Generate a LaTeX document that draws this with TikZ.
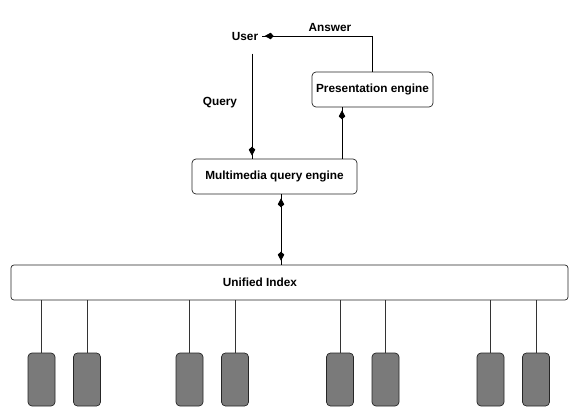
\documentclass[tikz,border=0pt]{standalone}
\usepackage{fontspec}
\setmainfont{Liberation Sans}
\usetikzlibrary{arrows.meta,decorations.markings}

\begin{document}
\begin{tikzpicture}[x=1pt,y=-1pt,
  font=\fontsize{11.8}{13}\selectfont\bfseries,
  >={Kite[length=9pt,width=6.5pt,inset=3pt]},
  enginebox/.style={draw=black!85,rounded corners=4pt,line width=0.7pt,inner sep=0pt},
  diskbox/.style={draw=black!85,fill=black!52,rounded corners=4pt,minimum width=27pt,minimum height=53pt,line width=0.7pt},
  arr/.style={line width=0.8pt,postaction={decorate},
    decoration={markings,mark=at position -3pt with {\arrow{>}}}},
  arrboth/.style={line width=0.8pt,postaction={decorate},
    decoration={markings,mark=at position 4pt with {\arrowreversed{>}},
      mark=at position -4pt with {\arrow{>}}}}]
\useasboundingbox (0,0) rectangle (582,415);

\node (user) at (245,36) {User};
\node (answer) at (330,27) {Answer};
\node[enginebox,minimum width=121pt,minimum height=35pt] (pres) at (372.5,89.5) {Presentation engine};
\node (query) at (220,103) {Query};
\node[enginebox,minimum width=165pt,minimum height=35pt] (mqe) at (274.5,176.5) {Multimedia query engine};
\node[enginebox,rounded corners=3pt,minimum width=557pt,minimum height=35pt] (uidx) at (289.5,282.5) {};
\node (uidxtext) at (260,282.5) {Unified Index};

% connectors
\draw[arr] (pres.north) |- (user.east);
\draw[arr] ([shift={(7pt,-10pt)}]user.south) -- ([xshift=-22.5pt]mqe.north);
\draw[arr] ([xshift=67.5pt]mqe.north) -- ([xshift=67.5pt]mqe.north |- pres.south);
\draw[arrboth] ([xshift=6.5pt]mqe.south) -- ([xshift=6.5pt]mqe.south |- uidx.north);

% storage units
\foreach \gx [count=\g] in {41.5,189.5,340,490.5} {
  \foreach \d in {0,1} {
    \node[diskbox] (disk\g\d) at (\gx+45.5*\d,379.5) {};
    \draw[line width=0.6pt,black!80] (disk\g\d.north |- uidx.south) -- (disk\g\d.north);
  }
}
\end{tikzpicture}
\end{document}
